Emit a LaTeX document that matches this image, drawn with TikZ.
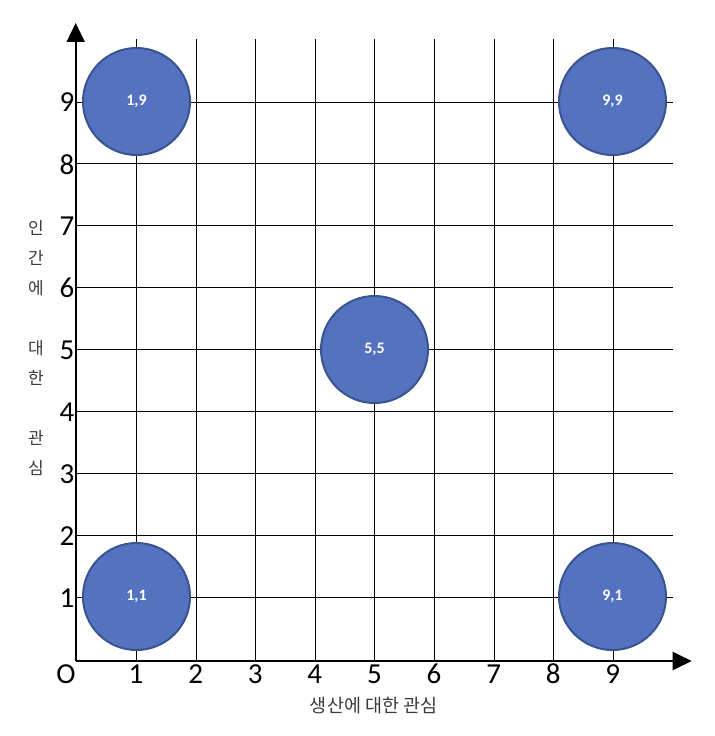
\documentclass[tikz,border=0pt]{standalone}
\usepackage{fontspec}
\setmainfont{Carlito}
\newfontfamily\krfont{Noto Sans CJK KR}
\usetikzlibrary{arrows.meta}
\definecolor{bubblefill}{RGB}{84,114,192}
\definecolor{bubbleedge}{RGB}{58,84,145}
\definecolor{labeltext}{RGB}{58,58,68}
\tikzset{
  gridline/.style={black, line width=1.3bp},
  axisline/.style={black, line width=2bp, -{Triangle[length=19bp,width=18bp]}},
  bubble/.style={circle, fill=bubblefill, draw=bubbleedge, line width=2bp,
    minimum size=107bp, inner sep=0pt, text=white,
    font=\bfseries\fontsize{16bp}{18bp}\selectfont},
  ticklabel/.style={inner sep=0pt, font=\fontsize{29bp}{30bp}\selectfont},
  axistitle/.style={inner sep=0pt, text=labeltext}
}
\begin{document}
\begin{tikzpicture}[x=1bp, y=-1bp]
\useasboundingbox (0,0) rectangle (715,736);
% grid (snapped to pixel centres)
\foreach \k in {1,...,9}{
  \pgfmathsetmacro{\gx}{round(76.4+59.6*\k)+0.5}
  \pgfmathsetmacro{\gy}{round(658.6-61.9*\k)+0.5}
  \draw[gridline] (\gx,39.5) -- (\gx,661);
  \draw[gridline] (75.7,\gy) -- (672.5,\gy);
}
% axes
\coordinate (O) at (75.7,661);
\coordinate (ytop) at (75.7,23);
\coordinate (xend) at (691.7,661);
\draw[axisline] (O) -- (ytop);
\draw[axisline] (O) -- (xend);
% tick labels
\node[ticklabel] (lO) at (66,674) {O};
\foreach \k in {1,...,9}{
  \node[ticklabel] (lx\k) at ({76.4+59.6*\k},674) {\k};
  \node[ticklabel] (ly\k) at (67,{658.6-61.9*\k+1}) {\k};
}
% bubbles
\node[bubble] (c19) at (136.5,101.5) {1,9};
\node[bubble] (c99) at (612.5,101.5) {9,9};
\node[bubble] (c55) at (374.5,349.5) {5,5};
\node[bubble] (c11) at (136.5,596.5) {1,1};
\node[bubble] (c91) at (612.5,596.5) {9,1};
% axis titles
\node[axistitle, font=\krfont\fontsize{18.5bp}{20bp}\selectfont] (xtitle) at (373.7,706) {생산에 대한 관심};
\node[axistitle, align=center, font=\krfont\fontsize{17bp}{30bp}\selectfont] (ytitle) at (36,348) {인\\간\\에\\\mbox{}\\대\\한\\\mbox{}\\관\\심};
\end{tikzpicture}
\end{document}
